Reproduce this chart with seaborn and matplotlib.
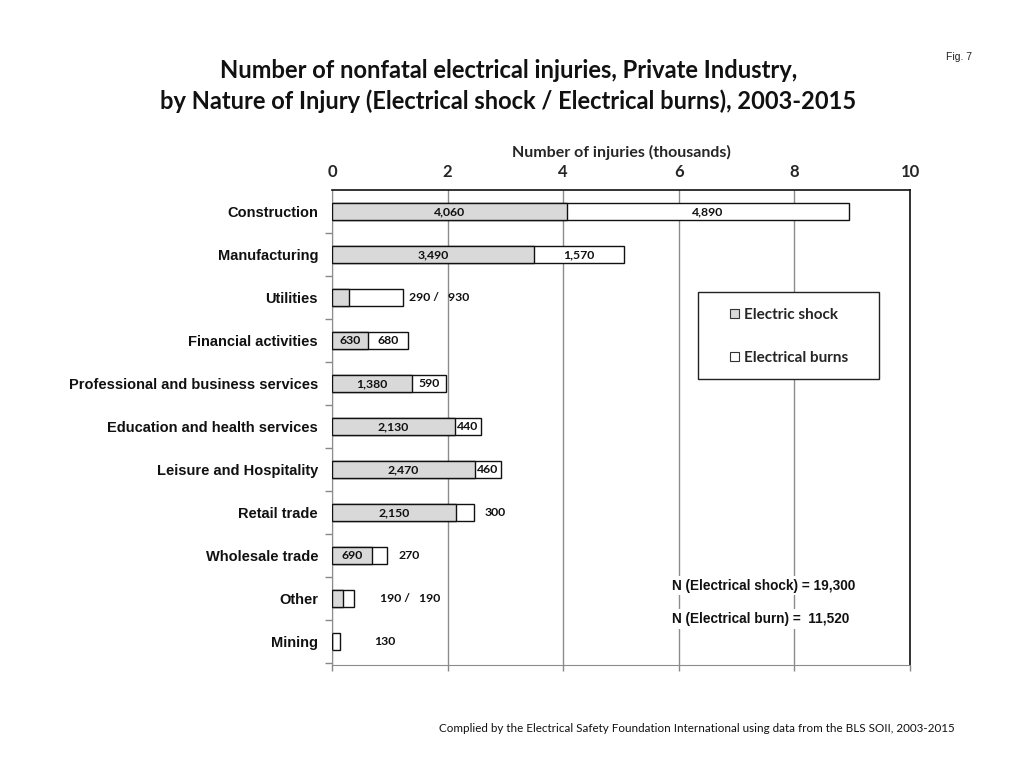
import matplotlib
matplotlib.use("Agg")
import matplotlib.pyplot as plt
import seaborn as sns
import pandas as pd
from matplotlib.patches import Patch, Rectangle

# ---------------- data ----------------
categories = [
    "Construction",
    "Manufacturing",
    "Utilities",
    "Financial activities",
    "Professional and business services",
    "Education and health services",
    "Leisure and Hospitality",
    "Retail trade",
    "Wholesale trade",
    "Other",
    "Mining",
]
shock = [4060, 3490, 290, 630, 1380, 2130, 2470, 2150, 690, 190, 0]
burns = [4890, 1570, 930, 680, 590, 440, 460, 300, 270, 190, 130]
label_mode = ["in", "in", "both_out", "in", "in", "in", "in",
              "burn_out", "burn_out", "both_out", "out_only"]
x_ticks = [0, 2, 4, 6, 8, 10]
n_shock_text = "N (Electrical shock) = 19,300"
n_burn_text = "N (Electrical burn) =  11,520"

df = pd.DataFrame({
    "category": categories,
    "shock": [v / 1000 for v in shock],
    "burns": [v / 1000 for v in burns],
})
df["total"] = df["shock"] + df["burns"]

# ---------------- style ----------------
sns.set_style("white")
plt.rcParams["font.family"] = ["Lato", "DejaVu Sans"]
ARIAL = ["Liberation Sans", "DejaVu Sans"]

fig = plt.figure(figsize=(10.24, 7.63), dpi=100)
ax = fig.add_axes([332 / 1024, 1 - 665 / 763, 578 / 1024, 475 / 763])

sns.barplot(data=df, y="category", x="total", color="white", saturation=1,
            edgecolor="#111111", linewidth=1.0, width=0.4, errorbar=None,
            orient="h", ax=ax, zorder=2)
sns.barplot(data=df, y="category", x="shock", color="#d9d9d9", saturation=1,
            edgecolor="#111111", linewidth=1.0, width=0.4, errorbar=None,
            orient="h", ax=ax, zorder=3)

ax.set_xlim(0, 10)
ax.set_ylim(10.55, -0.5)

# x axis: labels on top, small ticks at bottom
ax.set_xticks(x_ticks)
ax.set_xticklabels([str(t) for t in x_ticks], fontsize=12, fontweight="bold")
ax.tick_params(axis="x", which="major", top=False, labeltop=True,
               bottom=True, labelbottom=False, length=4, width=1,
               color="#888888", direction="out", pad=3)
ax.xaxis.set_label_position("top")
ax.set_xlabel("Number of injuries (thousands)", fontsize=11.5,
              fontweight="bold", labelpad=5)

# y axis
ax.set_yticks(range(len(categories)))
ax.set_yticklabels(categories, family=ARIAL, fontsize=10.5,
                   fontweight="bold", color="#111111")
ax.set_ylabel("")
ax.tick_params(axis="y", which="major", length=0, pad=10)
ax.set_yticks([i + 0.5 for i in range(len(categories))], minor=True)
ax.tick_params(axis="y", which="minor", left=True, length=5, width=1,
               color="#888888", direction="out")

ax.grid(axis="x", color="#8c8c8c", linewidth=1.0, zorder=0)
ax.grid(axis="y", visible=False)
ax.set_axisbelow(True)

ax.spines["top"].set_color("#111111")
ax.spines["top"].set_linewidth(1.2)
ax.spines["right"].set_color("#111111")
ax.spines["right"].set_linewidth(1.2)
ax.spines["left"].set_color("#8c8c8c")
ax.spines["bottom"].set_color("#8c8c8c")
for s in ax.spines.values():
    s.set_visible(True)

# ---------------- value labels ----------------
out_offsets = {2: 5, 7: 8, 8: 8, 9: 19, 10: 25}
lab_kw = dict(fontsize=8.8, fontweight="bold", color="#111111", zorder=6)
for i, mode in enumerate(label_mode):
    s, b = df["shock"][i], df["burns"][i]
    total = s + b
    if mode in ("in", "burn_out"):
        ax.text(s / 2, i, f"{shock[i]:,}", ha="center", va="center", **lab_kw)
    if mode == "in":
        ax.text(s + b / 2, i, f"{burns[i]:,}", ha="center", va="center", **lab_kw)
    elif mode in ("burn_out", "out_only"):
        ax.annotate(f"{burns[i]:,}", xy=(total, i), xytext=(out_offsets[i], 0),
                    textcoords="offset points", ha="left", va="center", **lab_kw)
    elif mode == "both_out":
        ax.annotate(f"{shock[i]:,} /   {burns[i]:,}", xy=(total, i),
                    xytext=(out_offsets[i], 0), textcoords="offset points",
                    ha="left", va="center", **lab_kw)

# ---------------- legend ----------------
ax.add_patch(Rectangle((0.633, 0.602), 0.313, 0.183, transform=ax.transAxes,
                       facecolor="white", edgecolor="#222222", linewidth=1.0,
                       zorder=4))
handles = [
    Patch(facecolor="#d9d9d9", edgecolor="#333333", linewidth=0.8,
          label="Electric shock"),
    Patch(facecolor="white", edgecolor="#333333", linewidth=0.8,
          label="Electrical burns"),
]
leg = ax.legend(handles=handles, loc="center left",
                bbox_to_anchor=(0.6886, 0.692), frameon=False,
                borderpad=0, borderaxespad=0, handlelength=0.6,
                handleheight=0.6, handletextpad=0.3, labelspacing=1.9,
                prop={"size": 11, "weight": "bold"})
leg.set_zorder(5)

# ---------------- N annotations ----------------
n_kw = dict(transform=ax.transAxes, family=ARIAL, fontsize=9.8, fontweight="bold",
            ha="left", va="center", color="#111111", zorder=5,
            bbox=dict(facecolor="white", edgecolor="none", pad=2))
ax.text(0.588, 0.167, n_shock_text, **n_kw)
ax.text(0.588, 0.097, n_burn_text, **n_kw)

# ---------------- figure texts ----------------
fig.text(509 / 1024, 1 - 70 / 763,
         "Number of nonfatal electrical injuries, Private Industry,",
         ha="center", va="center", fontsize=17.1, fontweight="bold", color="#111111")
fig.text(508 / 1024, 1 - 101 / 763,
         "by Nature of Injury (Electrical shock / Electrical burns), 2003-2015",
         ha="center", va="center", fontsize=17.0, fontweight="bold", color="#111111")
fig.text(959 / 1024, 1 - 57 / 763, "Fig. 7", ha="center", va="center",
         fontsize=7.5, family=ARIAL, color="#222222")
fig.text(955 / 1024, 1 - 728 / 763,
         "Complied by the Electrical Safety Foundation International using data from the BLS SOII, 2003-2015",
         ha="right", va="center", fontsize=8.35, color="#111111")

fig.savefig("out.png", dpi=100, facecolor="white")
